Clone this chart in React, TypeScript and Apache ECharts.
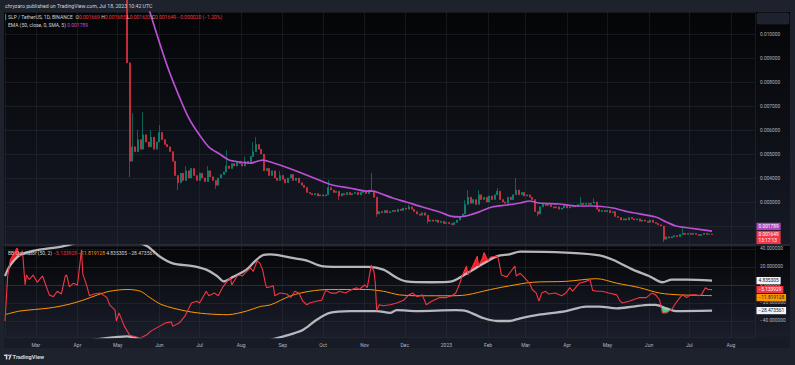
import React, { useEffect, useRef } from 'react';
import * as echarts from 'echarts';

const FONT = 'Roboto, "Liberation Sans", "DejaVu Sans", sans-serif';

const HEADER_TEXT = 'chryzaro published on TradingView.com, Jul 18, 2023 10:42 UTC';
const SYMBOL_TEXT = 'SLP / TetherUS, 1D, BINANCE';
const EMA_TEXT = 'EMA (50, close, 0, SMA, 5)';
const OSC_TEXT = 'BB Oscillator (50, 2)';
const COUNTDOWN = '13:17:13';
const BRAND = 'TradingView';

const X_START = '2022-02-06';
const X_END = '2023-08-19';
const MONTHS = ['Jan', 'Feb', 'Mar', 'Apr', 'May', 'Jun', 'Jul', 'Aug', 'Sep', 'Oct', 'Nov', 'Dec'];

// Candles: 2-day candles, prices in micro-USDT (1e-6)
const CANDLE_START = '2022-05-08';
const CANDLE_STEP_DAYS = 2;
const FIRST_OPEN = 11800;
const closes = [
  8800, 4700, 5300, 5100, 5600, 5200, 5800, 5500, 5300, 5700,
  5200, 5500, 5900, 5600, 5400, 5300, 5100, 4700, 4100, 3800,
  4200, 3900, 4300, 4000, 4400, 4100, 3900, 4200, 4000, 3850,
  4300, 4050, 3900, 3700, 4000, 4150, 4250, 4500, 4400, 4600,
  4500, 4700, 4600, 4500, 4700, 4600, 4900, 5100, 5400, 5200,
  5000, 4300, 4400, 4100, 4300, 4000, 3900, 4100, 3950, 3800,
  4000, 4150, 3900, 4000, 3800, 3700, 3600, 3400, 3350, 3300,
  3350, 3250, 3300, 3250, 3300, 3600, 3500, 3400, 3450, 3250,
  3350, 3300, 3400, 3300, 3350, 3400, 3300, 3400, 3450, 3350,
  3500, 3450, 3200, 2500, 2600, 2550, 2650, 2550, 2600, 2650,
  2600, 2700, 2650, 2750, 2700, 2800, 2700, 2600, 2500, 2450,
  2550, 2450, 2200, 2250, 2200, 2250, 2150, 2200, 2100, 2150,
  2100, 2050, 2150, 2250, 2400, 2500, 2900, 3200, 2950, 3100,
  2900, 3300, 3100, 3200, 3000, 3250, 3100, 3300, 3450, 3100,
  3000, 2950, 3200, 3100, 3300, 3500, 3300, 3400, 3250, 3300,
  3200, 3100, 2600, 2500, 2800, 2950, 2850, 2900, 2800, 2750,
  2800, 2700, 2750, 2850, 2750, 2800, 2850, 2800, 2900, 2950,
  2900, 2950, 2900, 2950, 3000, 2700, 2600, 2650, 2600, 2650,
  2550, 2600, 2400, 2350, 2250, 2300, 2250, 2350, 2300, 2250,
  2300, 2200, 2250, 2200, 2150, 2250, 2150, 2100, 2050, 2000,
  1450, 1550, 1500, 1550, 1600, 1550, 1650, 1700, 1650, 1700,
  1650, 1700, 1650, 1600, 1650, 1700, 1650, 1669, 1649,
];
// [candle index, high, low] (null = body edge)
const wicks: [number, number | null, number | null][] = [
  [1, null, 4040], [2, 6700, null], [4, 6000, null], [6, 6750, null], [9, 6000, null],
  [12, 6210, null], [19, null, 3500], [22, 4500, null], [30, 4500, null], [33, null, 3550],
  [37, 5170, null], [44, 4900, null], [47, 5500, null], [48, 5710, null], [57, 4300, null],
  [75, 3920, null], [79, null, 3080], [91, 4210, null], [93, null, 2380], [105, 2900, null],
  [112, null, 2100], [126, 3080, null], [127, 3500, null], [131, 3500, null], [138, 3580, null],
  [145, 4000, null], [153, null, 2400], [169, 3210, null], [174, 3150, null], [200, null, 1330],
  [207, 1900, null], [218, 1685, 1633],
];

// EMA (micro-USDT)
const emaPoints: [string, number][] = [
  ['2022-05-21', 11700], ['2022-05-25', 10917], ['2022-06-01', 9667], ['2022-06-08', 8500],
  ['2022-06-16', 7375], ['2022-06-23', 6500], ['2022-07-01', 5792], ['2022-07-08', 5292],
  ['2022-07-16', 5000], ['2022-07-23', 4750], ['2022-07-31', 4667], ['2022-08-08', 4625],
  ['2022-08-17', 4750], ['2022-08-25', 4625], ['2022-09-03', 4458], ['2022-09-13', 4250],
  ['2022-09-28', 3917], ['2022-10-08', 3708], ['2022-10-21', 3583], ['2022-11-02', 3458],
  ['2022-11-07', 3458], ['2022-11-12', 3375], ['2022-11-22', 3167], ['2022-12-02', 3000],
  ['2022-12-14', 2792], ['2022-12-27', 2583], ['2023-01-05', 2400], ['2023-01-11', 2380],
  ['2023-01-17', 2440], ['2023-01-25', 2580], ['2023-02-04', 2792], ['2023-02-15', 2875],
  ['2023-02-25', 2958], ['2023-03-04', 3042], ['2023-03-11', 2958], ['2023-03-26', 2917],
  ['2023-04-08', 2833], ['2023-04-20', 2833], ['2023-05-05', 2750], ['2023-05-17', 2583],
  ['2023-06-06', 2375], ['2023-06-14', 2167], ['2023-06-21', 2000], ['2023-07-01', 1917],
  ['2023-07-18', 1789],
];

// Oscillator pane
const oscLine: [string, number][] = [
  ['2022-02-06', -40], ['2022-02-08', 10], ['2022-02-10', 28], ['2022-02-15', 41], ['2022-02-17', 32],
  ['2022-02-19', 38], ['2022-02-21', 0], ['2022-02-22', 11], ['2022-02-24', 6], ['2022-02-27', 11],
  ['2022-03-02', 3], ['2022-03-06', 10], ['2022-03-11', -11], ['2022-03-14', -13], ['2022-03-17', -7],
  ['2022-03-20', -10], ['2022-03-23', 10], ['2022-03-24', 11], ['2022-03-26', -2], ['2022-03-29', 2],
  ['2022-04-01', 0], ['2022-04-04', 39], ['2022-04-05', 12], ['2022-04-08', -1], ['2022-04-10', -12],
  ['2022-04-13', -10], ['2022-04-18', -9], ['2022-04-20', -11], ['2022-04-23', -14], ['2022-04-25', -22],
  ['2022-04-29', -28], ['2022-04-30', -40], ['2022-05-02', -31], ['2022-05-06', -46], ['2022-05-10', -56],
  ['2022-05-18', -59], ['2022-05-23', -55], ['2022-05-26', -51], ['2022-06-01', -46], ['2022-06-06', -42],
  ['2022-06-10', -41], ['2022-06-11', -46], ['2022-06-16', -42], ['2022-06-20', -35], ['2022-06-25', -20],
  ['2022-06-29', -18], ['2022-07-01', -20], ['2022-07-06', -7], ['2022-07-08', -12], ['2022-07-12', -9],
  ['2022-07-15', -12], ['2022-07-18', -3], ['2022-07-22', 5], ['2022-07-24', 8], ['2022-07-25', 0],
  ['2022-07-29', 10], ['2022-07-31', 11], ['2022-08-02', 10], ['2022-08-05', 15], ['2022-08-08', 19],
  ['2022-08-10', 15], ['2022-08-13', 27], ['2022-08-15', 24], ['2022-08-17', 17], ['2022-08-19', 2],
  ['2022-08-20', -3], ['2022-08-23', -2], ['2022-08-25', -1], ['2022-08-26', -12], ['2022-08-30', -9],
  ['2022-09-04', -10], ['2022-09-07', -14], ['2022-09-10', -7], ['2022-09-13', -9], ['2022-09-16', -18],
  ['2022-09-19', -22], ['2022-09-21', -20], ['2022-09-26', -18], ['2022-09-30', -17], ['2022-10-03', -6],
  ['2022-10-07', -9], ['2022-10-11', -9], ['2022-10-13', -7], ['2022-10-18', -9], ['2022-10-21', -6],
  ['2022-10-26', -3], ['2022-10-28', -5], ['2022-11-01', 0], ['2022-11-03', -3], ['2022-11-06', 22],
  ['2022-11-08', 15], ['2022-11-09', 2], ['2022-11-10', -28], ['2022-11-12', -22], ['2022-11-15', -23],
  ['2022-11-20', -22], ['2022-11-25', -20], ['2022-11-30', -17], ['2022-12-04', -11], ['2022-12-07', -9],
  ['2022-12-10', -13], ['2022-12-14', -11], ['2022-12-17', -22], ['2022-12-21', -18], ['2022-12-27', -14],
  ['2023-01-01', -14], ['2023-01-05', -12], ['2023-01-08', -9], ['2023-01-11', 2], ['2023-01-13', 11],
  ['2023-01-16', 21], ['2023-01-17', 11], ['2023-01-20', 19], ['2023-01-24', 32], ['2023-01-25', 21],
  ['2023-01-28', 30], ['2023-01-29', 36], ['2023-02-01', 27], ['2023-02-03', 31], ['2023-02-08', 32],
  ['2023-02-09', 27], ['2023-02-11', 11], ['2023-02-15', 9], ['2023-02-17', 13], ['2023-02-21', 21],
  ['2023-02-22', 10], ['2023-02-25', 13], ['2023-02-27', 10], ['2023-03-02', 5], ['2023-03-04', 2],
  ['2023-03-06', -5], ['2023-03-09', -9], ['2023-03-11', -18], ['2023-03-13', -9], ['2023-03-16', -7],
  ['2023-03-18', -10], ['2023-03-23', -9], ['2023-03-28', -12], ['2023-03-31', -9], ['2023-04-03', -3],
  ['2023-04-05', -7], ['2023-04-10', 2], ['2023-04-15', 4], ['2023-04-18', 6], ['2023-04-20', -6],
  ['2023-04-23', -7], ['2023-04-27', -7], ['2023-05-02', -9], ['2023-05-08', -11], ['2023-05-10', -17],
  ['2023-05-12', -20], ['2023-05-17', -18], ['2023-05-25', -14], ['2023-05-30', -14], ['2023-06-03', -9],
  ['2023-06-06', -11], ['2023-06-09', -17], ['2023-06-11', -31], ['2023-06-14', -31], ['2023-06-16', -29],
  ['2023-06-18', -27], ['2023-06-21', -20], ['2023-06-24', -14], ['2023-06-26', -11], ['2023-06-29', -14],
  ['2023-07-02', -11], ['2023-07-06', -11], ['2023-07-08', -12], ['2023-07-10', -11], ['2023-07-13', -3],
  ['2023-07-15', -5], ['2023-07-18', -5.133929],
];
const oscSignal: [string, number][] = [
  ['2022-02-06', -33], ['2022-02-17', -29], ['2022-03-11', -25.6], ['2022-03-24', -22], ['2022-04-05', -17],
  ['2022-04-16', -11], ['2022-04-25', -7], ['2022-05-08', -5], ['2022-05-18', -7], ['2022-05-25', -14],
  ['2022-06-03', -22], ['2022-06-21', -29], ['2022-07-06', -32], ['2022-07-22', -33], ['2022-08-05', -29],
  ['2022-08-15', -24], ['2022-08-23', -22], ['2022-09-07', -12], ['2022-09-21', -7], ['2022-10-06', -5],
  ['2022-11-02', -5], ['2022-11-15', -7], ['2022-11-27', -11], ['2022-12-14', -12], ['2023-01-03', -12],
  ['2023-01-16', -11], ['2023-02-03', -5], ['2023-02-17', -1], ['2023-03-06', 3], ['2023-03-31', 4],
  ['2023-04-23', 7], ['2023-05-08', 2], ['2023-05-25', -3], ['2023-06-09', -9], ['2023-06-24', -11],
  ['2023-07-18', -11.819128],
];
const upperBand: [string, number][] = [
  ['2022-02-06', 10], ['2022-02-10', 22], ['2022-02-17', 33], ['2022-02-27', 38], ['2022-03-21', 43],
  ['2022-04-06', 49], ['2022-04-25', 53], ['2022-05-10', 50], ['2022-05-23', 43], ['2022-06-01', 32],
  ['2022-06-11', 24], ['2022-06-26', 21], ['2022-07-06', 17], ['2022-07-14', 10], ['2022-07-19', 4],
  ['2022-07-26', 9], ['2022-08-05', 17], ['2022-08-11', 26], ['2022-08-17', 33], ['2022-08-23', 34],
  ['2022-09-08', 30], ['2022-09-19', 27], ['2022-09-30', 21], ['2022-10-21', 20], ['2022-11-04', 20],
  ['2022-11-15', 17], ['2022-11-25', 8], ['2022-12-02', 4], ['2022-12-21', 3], ['2023-01-05', 4],
  ['2023-01-13', 10], ['2023-01-29', 24], ['2023-02-08', 32], ['2023-02-17', 34], ['2023-02-25', 37],
  ['2023-03-31', 36], ['2023-04-25', 33], ['2023-05-05', 28], ['2023-05-20', 17], ['2023-06-01', 10],
  ['2023-06-11', 3], ['2023-06-18', 6], ['2023-06-29', 6], ['2023-07-18', 4.835305],
];
const lowerBand: [string, number][] = [
  ['2022-02-06', -75], ['2022-03-19', -66], ['2022-04-18', -60], ['2022-05-08', -57], ['2022-05-25', -63],
  ['2022-07-01', -68], ['2022-08-08', -66], ['2022-09-04', -56], ['2022-09-16', -50], ['2022-09-26', -39],
  ['2022-10-06', -31], ['2022-10-21', -29], ['2022-11-10', -29], ['2022-11-20', -31], ['2022-11-25', -28],
  ['2022-12-10', -29], ['2023-01-08', -28], ['2023-01-16', -29], ['2023-01-29', -37], ['2023-02-08', -40],
  ['2023-02-17', -40], ['2023-02-25', -37], ['2023-03-11', -33], ['2023-03-31', -29], ['2023-04-15', -24],
  ['2023-04-25', -24], ['2023-05-08', -26], ['2023-05-20', -24], ['2023-06-01', -22], ['2023-06-06', -22],
  ['2023-06-14', -26], ['2023-06-21', -29], ['2023-07-18', -28.473561],
];

// ---------- helpers ----------
const DAY = 86400000;
const toMs = (s: string) => new Date(s + 'T00:00:00').getTime();
type Pt = [number, number];
const toPts = (a: [string, number][]): Pt[] => a.map(([d, v]) => [toMs(d), v]);
const minus = (s: string) => s.replace('-', '\u2212');
const fmt6 = (v: number) => minus(v.toFixed(6));

function valueAt(pts: Pt[], t: number): number | null {
  if (t < pts[0][0] || t > pts[pts.length - 1][0]) return null;
  for (let i = 1; i < pts.length; i++) {
    if (t <= pts[i][0]) {
      const [t0, v0] = pts[i - 1];
      const [t1, v1] = pts[i];
      return t1 === t0 ? v1 : v0 + ((v1 - v0) * (t - t0)) / (t1 - t0);
    }
  }
  return pts[pts.length - 1][1];
}

function fillPoints(api: any, line: Pt[], band: Pt[], above: boolean) {
  const ts = Array.from(new Set([...line.map((p) => p[0]), ...band.map((p) => p[0])])).sort((a, b) => a - b);
  const samples: number[] = [];
  for (const t of ts) {
    const a = valueAt(line, t);
    const b = valueAt(band, t);
    if (a == null || b == null) continue;
    if (samples.length) {
      const tp = samples[samples.length - 1];
      const dp = (valueAt(line, tp) as number) - (valueAt(band, tp) as number);
      const dc = a - b;
      if (dp * dc < 0) samples.push(tp + ((t - tp) * dp) / (dp - dc));
    }
    samples.push(t);
  }
  const edge: number[][] = [];
  const base: number[][] = [];
  for (const t of samples) {
    const a = valueAt(line, t) as number;
    const b = valueAt(band, t) as number;
    edge.push(api.coord([t, above ? Math.max(a, b) : Math.min(a, b)]));
    base.push(api.coord([t, b]));
  }
  return edge.concat(base.reverse());
}

type Lab = { value: number; lines: string[]; bg: string; fg: string; fixed?: boolean };
function labelGroup(params: any, api: any, lastMs: number, labs: Lab[]) {
  const cs = params.coordSys;
  const x = cs.x + cs.width + 1.5;
  const LH = 6;
  const PAD = 0.6;
  const GAP = 0.8;
  const boxes = labs.map((l) => {
    const cy = api.coord([lastMs, l.value])[1];
    const h = l.lines.length * LH + 2 * PAD;
    return { ...l, cy, top: cy - LH / 2 - PAD, h };
  });
  const placed = boxes.filter((b) => b.fixed);
  for (const b of boxes.filter((bb) => !bb.fixed)) {
    for (const p of placed) {
      if (b.top < p.top + p.h + GAP && b.top + b.h + GAP > p.top) {
        b.top = b.cy < p.cy ? p.top - b.h - GAP : p.top + p.h + GAP;
      }
    }
    placed.push(b);
  }
  return {
    type: 'group',
    children: placed.map((b) => ({
      type: 'text',
      x,
      y: b.top,
      style: {
        text: b.lines.join('\n'),
        fill: b.fg,
        backgroundColor: b.bg,
        padding: [PAD, 2, PAD, 2],
        fontSize: 4.8,
        fontFamily: FONT,
        lineHeight: LH,
        verticalAlign: 'top',
        align: 'left',
      },
    })),
  };
}

function buildOption() {
  const startMs = toMs(CANDLE_START);
  const wickMap = new Map<number, [number | null, number | null]>();
  wicks.forEach(([i, h, l]) => wickMap.set(i, [h, l]));
  const candleData = closes.map((c, i) => {
    const open = i === 0 ? FIRST_OPEN : closes[i - 1];
    const w = wickMap.get(i);
    const high = Math.max(open, c, w && w[0] != null ? w[0] : 0);
    const low = Math.min(open, c, w && w[1] != null ? w[1] : Infinity);
    return [startMs + i * CANDLE_STEP_DAYS * DAY, open / 1e6, c / 1e6, low / 1e6, high / 1e6];
  });
  const last = candleData[candleData.length - 1];
  const lastMs = last[0];
  const [lo, lc, ll, lh] = [last[1], last[2], last[3], last[4]];
  const chg = lc - lo;
  const pct = (chg / lo) * 100;

  const emaData = emaPoints.map(([d, v]) => [toMs(d), v / 1e6]);
  const emaLast = emaData[emaData.length - 1][1];

  const osc = toPts(oscLine);
  const sig = toPts(oscSignal);
  const up = toPts(upperBand);
  const dn = toPts(lowerBand);
  const oscLast = osc[osc.length - 1][1];
  const sigLast = sig[sig.length - 1][1];
  const upLast = up[up.length - 1][1];
  const dnLast = dn[dn.length - 1][1];

  const GRID_C = 'rgba(54,58,69,0.35)';
  const AXIS_TXT = '#b2b5be';
  const RED = '#f23645';
  const GREEN = '#089981';

  const timeLabel = (v: number) => {
    const d = new Date(v);
    return d.getMonth() === 0 ? String(d.getFullYear()) : MONTHS[d.getMonth()];
  };

  const xCommon = {
    type: 'time',
    min: toMs(X_START),
    max: toMs(X_END),
    splitNumber: 18,
    minInterval: 28 * DAY,
    maxInterval: 31 * DAY,
    axisTick: { show: false },
    splitLine: { show: true, lineStyle: { color: GRID_C, width: 1 } },
  };

  const yLabel = { color: AXIS_TXT, fontSize: 4.8, fontFamily: FONT, margin: 5, formatter: (v: number) => fmt6(v), showMinLabel: false, showMaxLabel: false };

  const legendRich = {
    t: { fill: '#d1d4dc', color: '#d1d4dc', fontSize: 5, fontFamily: FONT },
    r: { fill: RED, color: RED, fontSize: 5, fontFamily: FONT },
    p: { fill: '#bb4fd6', color: '#bb4fd6', fontSize: 5, fontFamily: FONT },
    o: { fill: '#ff9800', color: '#ff9800', fontSize: 5, fontFamily: FONT },
  };

  const f = (v: number) => v.toFixed(6);
  const line1 = `{t|${SYMBOL_TEXT}  O}{r|${f(lo)}} {t|H}{r|${f(lh)}} {t|L}{r|${f(ll)}} {t|C}{r|${f(lc)}} {r|${minus(chg.toFixed(6))} (${minus(pct.toFixed(2))}%)}`;
  const line2 = `{t|${EMA_TEXT}} {p|${f(emaLast)}}`;
  const line3 = `{t|${OSC_TEXT}} {r|${fmt6(oscLast)}} {o|${fmt6(sigLast)}} {t|${fmt6(upLast)}} {t|${fmt6(dnLast)}}`;

  return {
    animation: false,
    backgroundColor: '#1e222d',
    textStyle: { fontFamily: FONT },
    grid: [
      { left: 5, top: 12, width: 750, height: 232 },
      { left: 5, top: 246, width: 750, height: 91 },
    ],
    xAxis: [
      { ...xCommon, gridIndex: 0, axisLine: { show: false }, axisLabel: { show: false } },
      {
        ...xCommon,
        gridIndex: 1,
        axisLine: { show: true, lineStyle: { color: '#2a2e39', width: 1 } },
        axisLabel: { show: true, color: AXIS_TXT, fontSize: 5, fontFamily: FONT, margin: 5, formatter: timeLabel, showMinLabel: false, showMaxLabel: false },
      },
    ],
    yAxis: [
      {
        type: 'value', gridIndex: 0, position: 'right', min: 0.00125, max: 0.01092,
        splitNumber: 10, minInterval: 0.001, maxInterval: 0.001, scale: true,
        axisLine: { show: false }, axisTick: { show: false },
        axisLabel: yLabel,
        splitLine: { show: true, lineStyle: { color: GRID_C, width: 1 } },
      },
      {
        type: 'value', gridIndex: 1, position: 'right', min: -57.8, max: 43.3,
        splitNumber: 5, minInterval: 20, maxInterval: 20, scale: true,
        axisLine: { show: false }, axisTick: { show: false },
        axisLabel: yLabel,
        splitLine: { show: true, lineStyle: { color: GRID_C, width: 1 } },
      },
    ],
    graphic: [
      { type: 'rect', z: -20, silent: true, shape: { x: 4, y: 12, width: 786, height: 336 }, style: { fill: '#171b26' } },
      {
        type: 'rect', z: -19, silent: true, shape: { x: 4, y: 12, width: 786, height: 232 },
        style: { fill: new echarts.graphic.LinearGradient(0, 0, 0, 1, [{ offset: 0, color: '#040507' }, { offset: 1, color: '#161a25' }]) },
      },
      { type: 'rect', z: -19, silent: true, shape: { x: 4, y: 244, width: 786, height: 2 }, style: { fill: '#222631' } },
      {
        type: 'rect', z: -19, silent: true, shape: { x: 4, y: 246, width: 786, height: 91 },
        style: { fill: new echarts.graphic.LinearGradient(0, 0, 0, 1, [{ offset: 0, color: '#040507' }, { offset: 1, color: '#1a1e2a' }]) },
      },
      { type: 'rect', z: 5, silent: true, shape: { x: 757, y: 13, width: 32, height: 11, r: 2 }, style: { fill: '#1e222d', stroke: '#2a2e39', lineWidth: 0.6 } },
      { type: 'rect', z: 5, silent: true, shape: { x: 5, y: 14, width: 1.2, height: 6 }, style: { fill: GREEN } },
      { type: 'text', z: 10, silent: true, x: 5, y: 6, style: { text: HEADER_TEXT, fill: '#d1d4dc', fontSize: 5.2, fontFamily: FONT, verticalAlign: 'middle' } },
      { type: 'text', z: 10, silent: true, x: 8, y: 17.3, style: { text: line1, rich: legendRich, fill: '#d1d4dc', fontSize: 5, fontFamily: FONT, verticalAlign: 'middle' } },
      { type: 'text', z: 10, silent: true, x: 8, y: 25, style: { text: line2, rich: legendRich, fill: '#d1d4dc', fontSize: 5, fontFamily: FONT, verticalAlign: 'middle' } },
      { type: 'text', z: 10, silent: true, x: 8, y: 252.5, style: { text: line3, rich: legendRich, fill: '#d1d4dc', fontSize: 5, fontFamily: FONT, verticalAlign: 'middle' } },
      // TradingView logo
      { type: 'rect', z: 10, silent: true, shape: { x: 4, y: 354.6, width: 3.6, height: 1.4 }, style: { fill: '#d1d4dc' } },
      { type: 'rect', z: 10, silent: true, shape: { x: 5.8, y: 354.6, width: 1.5, height: 4.8 }, style: { fill: '#d1d4dc' } },
      { type: 'circle', z: 10, silent: true, shape: { cx: 8.9, cy: 355.4, r: 0.8 }, style: { fill: '#d1d4dc' } },
      { type: 'polygon', z: 10, silent: true, shape: { points: [[8.4, 359.4], [10.3, 354.6], [11.8, 354.6], [9.9, 359.4]] }, style: { fill: '#d1d4dc' } },
      { type: 'text', z: 10, silent: true, x: 12.6, y: 357.2, style: { text: BRAND, fill: '#d1d4dc', fontSize: 5.6, fontWeight: 'bold', fontFamily: FONT, verticalAlign: 'middle' } },
    ],
    series: [
      {
        type: 'candlestick',
        xAxisIndex: 0, yAxisIndex: 0,
        data: candleData,
        encode: { x: 0, y: [1, 2, 3, 4] },
        barWidth: 1.5,
        clip: true,
        itemStyle: { color: GREEN, color0: RED, borderColor: GREEN, borderColor0: RED, borderWidth: 0.6 },
        markLine: {
          silent: true, symbol: ['none', 'none'], label: { show: false },
          lineStyle: { color: RED, type: [1, 1.5], width: 0.7, opacity: 0.75 },
          data: [{ yAxis: lc }],
        },
        z: 3,
      },
      {
        type: 'line', xAxisIndex: 0, yAxisIndex: 0, data: emaData, showSymbol: false, symbol: 'none',
        smooth: 0.3, clip: true, lineStyle: { color: '#bb4fd6', width: 1.7 }, z: 4,
      },
      {
        type: 'custom', xAxisIndex: 0, yAxisIndex: 0, data: [[lastMs, lc]], clip: false, z: 8, silent: true,
        renderItem: (params: any, api: any) =>
          labelGroup(params, api, lastMs, [
            { value: lc, lines: [f(lc), COUNTDOWN], bg: RED, fg: '#ffffff', fixed: true },
            { value: emaLast, lines: [f(emaLast)], bg: '#ab47bc', fg: '#ffffff' },
          ]),
      },
      // oscillator pane fills
      {
        type: 'custom', xAxisIndex: 1, yAxisIndex: 1, data: [[osc[0][0], 0]], clip: true, z: 2, silent: true,
        renderItem: (params: any, api: any) => ({
          type: 'group',
          children: [
            { type: 'polygon', shape: { points: fillPoints(api, osc, up, true) }, style: { fill: '#ff1a1a' } },
            { type: 'polygon', shape: { points: fillPoints(api, osc, dn, false) }, style: { fill: '#22e08a' } },
          ],
        }),
      },
      {
        type: 'line', xAxisIndex: 1, yAxisIndex: 1, data: up, showSymbol: false, symbol: 'none', smooth: 0.3, clip: true,
        lineStyle: { color: 'rgba(196,198,204,0.92)', width: 2.3 }, z: 3,
      },
      {
        type: 'line', xAxisIndex: 1, yAxisIndex: 1, data: dn, showSymbol: false, symbol: 'none', smooth: 0.3, clip: true,
        lineStyle: { color: 'rgba(196,198,204,0.92)', width: 2.3 }, z: 3,
      },
      {
        type: 'line', xAxisIndex: 1, yAxisIndex: 1, data: sig, showSymbol: false, symbol: 'none', smooth: 0.3, clip: true,
        lineStyle: { color: '#ff9800', width: 1 }, z: 4,
      },
      {
        type: 'line', xAxisIndex: 1, yAxisIndex: 1, data: osc, showSymbol: false, symbol: 'none', clip: true,
        lineStyle: { color: '#f23645', width: 1.1 }, z: 5,
      },
      {
        type: 'custom', xAxisIndex: 1, yAxisIndex: 1, data: [[lastMs, oscLast]], clip: false, z: 8, silent: true,
        renderItem: (params: any, api: any) =>
          labelGroup(params, api, lastMs, [
            { value: oscLast, lines: [fmt6(oscLast)], bg: RED, fg: '#ffffff', fixed: true },
            { value: upLast, lines: [fmt6(upLast)], bg: '#f0f3fa', fg: '#131722' },
            { value: sigLast, lines: [fmt6(sigLast)], bg: '#ff9800', fg: '#131722' },
            { value: dnLast, lines: [fmt6(dnLast)], bg: '#f0f3fa', fg: '#131722' },
          ]),
      },
    ],
  };
}

export default function App() {
  const ref = useRef<HTMLDivElement>(null);
  useEffect(() => {
    document.body.style.margin = '0';
    const chart = echarts.init(ref.current as HTMLDivElement, undefined, { renderer: 'svg' });
    chart.setOption(buildOption() as any);
    return () => chart.dispose();
  }, []);
  return <div ref={ref} style={{ width: 795, height: 365 }} />;
}
